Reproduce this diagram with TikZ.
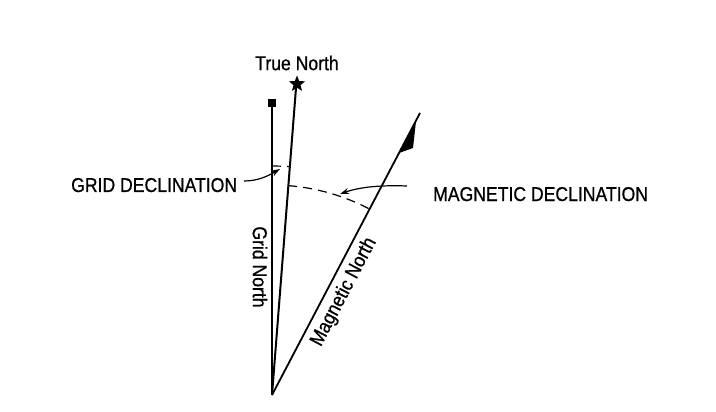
\documentclass[tikz,border=0pt]{standalone}
\usepackage{fontspec}
\setmainfont[FakeStretch=0.88,FakeBold=0.8]{Liberation Sans}
\usetikzlibrary{shapes.geometric,arrows.meta}
\tikzset{
  lbl/.style={inner sep=0pt, font=\fontsize{20}{23}\selectfont},
  mainline/.style={line width=2pt},
  decl/.style={line width=1.2pt, dash pattern=on 9pt off 6pt},
  pointer/.style={line width=1.2pt, -{Stealth[length=9pt,width=6pt]}},
}
\begin{document}
\begin{tikzpicture}[x=1pt,y=-1pt]
\useasboundingbox (0,0) rectangle (716,412);
% origin and line ends
\coordinate (O) at (272,395);
\coordinate (GNend) at (272,103);
\coordinate (TNend) at (296,88);
\coordinate (MNend) at (420,113);
% lines
\draw[mainline] (O) -- (GNend);
\draw[mainline] (O) -- (TNend);
\draw[line width=1.8pt] (O) -- (MNend);
% markers
\node[fill=black, minimum size=8pt, inner sep=0pt] (sq) at (272,103) {};
\node[star, star points=5, star point ratio=2.3, fill=black, minimum size=17pt, inner sep=0pt] (st) at (297,84) {};
% half arrowhead on magnetic north
\fill (416,121) -- (413,148) -- (399,153) -- cycle;
% declination arcs
\draw[decl] (O) ++(-90:229) arc[start angle=-90, end angle=-85.56, radius=229];
\draw[decl] (O) ++(-85.56:210) arc[start angle=-85.56, end angle=-62.3, radius=210];
% labels
\node[lbl] (tn) at (297,63) {True North};
\node[lbl, anchor=base west] (gd) at (71,192) {GRID DECLINATION};
\node[lbl, anchor=base west] (md) at (433,201) {MAGNETIC DECLINATION};
\node[lbl, rotate=-90] (gn) at (260,267) {Grid North};
\node[lbl, rotate=62.3] (mn) at (344,292) {Magnetic North};
% pointers
\coordinate (gdS) at (244,181);
\coordinate (gdT) at (280,169);
\coordinate (mdS) at (407,186);
\coordinate (mdT) at (340,194);
\draw[pointer] (gdS) .. controls (258,181) and (268,176) .. (gdT);
\draw[pointer] (mdS) .. controls (380,185) and (360,187) .. (mdT);
\end{tikzpicture}
\end{document}
